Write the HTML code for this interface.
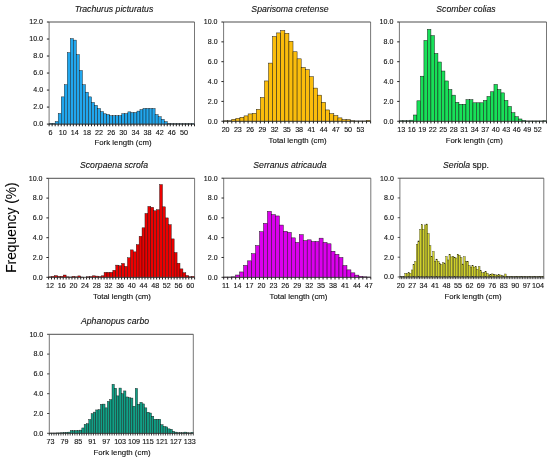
<!DOCTYPE html>
<html lang="en"><head><meta charset="utf-8"><title>Length frequency distributions</title>
<style>html,body{margin:0;padding:0;background:#fff}body{width:550px;height:460px;overflow:hidden}svg{display:block}</style>
</head><body>
<svg width="550" height="460" viewBox="0 0 550 460" font-family="'Liberation Sans', Arial, sans-serif">
<rect width="550" height="460" fill="#ffffff"/>
<text transform="translate(16.2,227.6) rotate(-90)" text-anchor="middle" font-size="13.8" fill="#000" stroke="#000" stroke-width="0.1">Frequency (%)</text>
<g fill="#21a7ee" stroke="#101010" stroke-width="0.42">
<rect x="49.10" y="123.42" width="3.03" height="0.68"/>
<rect x="52.13" y="123.42" width="3.03" height="0.68"/>
<rect x="55.16" y="121.55" width="3.03" height="2.55"/>
<rect x="58.19" y="113.46" width="3.03" height="10.64"/>
<rect x="61.22" y="96.87" width="3.03" height="27.23"/>
<rect x="64.25" y="84.71" width="3.03" height="39.39"/>
<rect x="67.28" y="52.63" width="3.03" height="71.47"/>
<rect x="70.30" y="38.59" width="3.03" height="85.51"/>
<rect x="73.33" y="40.12" width="3.03" height="83.98"/>
<rect x="76.36" y="54.59" width="3.03" height="69.51"/>
<rect x="79.39" y="70.50" width="3.03" height="53.60"/>
<rect x="82.42" y="84.71" width="3.03" height="39.39"/>
<rect x="85.45" y="92.19" width="3.03" height="31.91"/>
<rect x="88.48" y="96.87" width="3.03" height="27.23"/>
<rect x="91.51" y="102.40" width="3.03" height="21.70"/>
<rect x="94.54" y="105.38" width="3.03" height="18.72"/>
<rect x="97.57" y="108.53" width="3.03" height="15.57"/>
<rect x="100.60" y="111.59" width="3.03" height="12.51"/>
<rect x="103.62" y="113.80" width="3.03" height="10.30"/>
<rect x="106.65" y="114.57" width="3.03" height="9.53"/>
<rect x="109.68" y="115.68" width="3.03" height="8.42"/>
<rect x="112.71" y="115.68" width="3.03" height="8.42"/>
<rect x="115.74" y="115.68" width="3.03" height="8.42"/>
<rect x="118.77" y="115.68" width="3.03" height="8.42"/>
<rect x="121.80" y="113.72" width="3.03" height="10.38"/>
<rect x="124.83" y="113.72" width="3.03" height="10.38"/>
<rect x="127.86" y="111.85" width="3.03" height="12.25"/>
<rect x="130.89" y="112.61" width="3.03" height="11.49"/>
<rect x="133.92" y="112.61" width="3.03" height="11.49"/>
<rect x="136.95" y="111.08" width="3.03" height="13.02"/>
<rect x="139.97" y="109.64" width="3.03" height="14.46"/>
<rect x="143.00" y="108.53" width="3.03" height="15.57"/>
<rect x="146.03" y="108.53" width="3.03" height="15.57"/>
<rect x="149.06" y="108.53" width="3.03" height="15.57"/>
<rect x="152.09" y="108.53" width="3.03" height="15.57"/>
<rect x="155.12" y="114.57" width="3.03" height="9.53"/>
<rect x="158.15" y="116.78" width="3.03" height="7.32"/>
<rect x="161.18" y="119.34" width="3.03" height="4.76"/>
<rect x="164.21" y="121.63" width="3.03" height="2.47"/>
<rect x="167.24" y="123.25" width="3.03" height="0.85"/>
<rect x="170.27" y="123.76" width="3.03" height="0.34"/>
<rect x="173.30" y="123.76" width="3.03" height="0.34"/>
<rect x="176.33" y="123.76" width="3.03" height="0.34"/>
<rect x="179.35" y="123.76" width="3.03" height="0.34"/>
<rect x="182.38" y="123.76" width="3.03" height="0.34"/>
<rect x="185.41" y="123.76" width="3.03" height="0.34"/>
<rect x="188.44" y="123.76" width="3.03" height="0.34"/>
<rect x="191.47" y="123.59" width="3.03" height="0.51"/>
</g>
<path d="M49.10 22.00H194.50M49.10 124.10H194.50" fill="none" stroke="#444" stroke-width="0.95"/>
<path d="M49.10 22.00V124.10M194.50 22.00V124.10" fill="none" stroke="#505050" stroke-width="0.78"/>
<path d="M46.90 124.10H49.10M46.90 107.08H49.10M46.90 90.07H49.10M46.90 73.05H49.10M46.90 56.03H49.10M46.90 39.02H49.10M46.90 22.00H49.10M49.10 124.10v2.2M52.13 124.10v2.2M55.16 124.10v2.2M58.19 124.10v2.2M61.22 124.10v2.2M64.25 124.10v2.2M67.28 124.10v2.2M70.30 124.10v2.2M73.33 124.10v2.2M76.36 124.10v2.2M79.39 124.10v2.2M82.42 124.10v2.2M85.45 124.10v2.2M88.48 124.10v2.2M91.51 124.10v2.2M94.54 124.10v2.2M97.57 124.10v2.2M100.60 124.10v2.2M103.62 124.10v2.2M106.65 124.10v2.2M109.68 124.10v2.2M112.71 124.10v2.2M115.74 124.10v2.2M118.77 124.10v2.2M121.80 124.10v2.2M124.83 124.10v2.2M127.86 124.10v2.2M130.89 124.10v2.2M133.92 124.10v2.2M136.95 124.10v2.2M139.97 124.10v2.2M143.00 124.10v2.2M146.03 124.10v2.2M149.06 124.10v2.2M152.09 124.10v2.2M155.12 124.10v2.2M158.15 124.10v2.2M161.18 124.10v2.2M164.21 124.10v2.2M167.24 124.10v2.2M170.27 124.10v2.2M173.30 124.10v2.2M176.33 124.10v2.2M179.35 124.10v2.2M182.38 124.10v2.2M185.41 124.10v2.2M188.44 124.10v2.2M191.47 124.10v2.2M194.50 124.10v2.2" stroke="#161616" stroke-width="0.95" fill="none"/>
<g font-size="7.05" fill="#111" stroke="#111" stroke-width="0.12" text-anchor="end" letter-spacing="0.04">
<text x="43.10" y="126.40">0.0</text>
<text x="43.10" y="109.38">2.0</text>
<text x="43.10" y="92.37">4.0</text>
<text x="43.10" y="75.35">6.0</text>
<text x="43.10" y="58.33">8.0</text>
<text x="43.10" y="41.32">10.0</text>
<text x="43.10" y="24.30">12.0</text>
</g>
<g font-size="7.2" fill="#111" stroke="#111" stroke-width="0.12" text-anchor="middle">
<text x="50.61" y="135.10">6</text>
<text x="62.73" y="135.10">10</text>
<text x="74.85" y="135.10">14</text>
<text x="86.96" y="135.10">18</text>
<text x="99.08" y="135.10">22</text>
<text x="111.20" y="135.10">26</text>
<text x="123.31" y="135.10">30</text>
<text x="135.43" y="135.10">34</text>
<text x="147.55" y="135.10">38</text>
<text x="159.66" y="135.10">42</text>
<text x="171.78" y="135.10">46</text>
<text x="183.90" y="135.10">50</text>
</g>
<text x="114" y="11.5" font-size="8.7" font-style="italic" fill="#111" stroke="#111" stroke-width="0.1" text-anchor="middle">Trachurus picturatus</text>
<text x="123" y="145.3" font-size="7.85" fill="#111" stroke="#111" stroke-width="0.12" text-anchor="middle">Fork length (cm)</text>
<g fill="#fbbd0c" stroke="#101010" stroke-width="0.46">
<rect x="223.60" y="120.75" width="4.08" height="0.50"/>
<rect x="227.68" y="120.75" width="4.08" height="0.50"/>
<rect x="231.77" y="119.27" width="4.08" height="1.99"/>
<rect x="235.85" y="118.37" width="4.08" height="2.88"/>
<rect x="239.93" y="117.28" width="4.08" height="3.97"/>
<rect x="244.02" y="115.89" width="4.08" height="5.36"/>
<rect x="248.10" y="113.91" width="4.08" height="7.34"/>
<rect x="252.18" y="113.31" width="4.08" height="7.94"/>
<rect x="256.27" y="109.34" width="4.08" height="11.91"/>
<rect x="260.35" y="97.43" width="4.08" height="23.82"/>
<rect x="264.43" y="80.95" width="4.08" height="40.30"/>
<rect x="268.52" y="63.09" width="4.08" height="58.16"/>
<rect x="272.60" y="36.49" width="4.08" height="84.76"/>
<rect x="276.68" y="32.92" width="4.08" height="88.33"/>
<rect x="280.77" y="30.54" width="4.08" height="90.71"/>
<rect x="284.85" y="33.31" width="4.08" height="87.94"/>
<rect x="288.93" y="41.25" width="4.08" height="80.00"/>
<rect x="293.02" y="51.77" width="4.08" height="69.48"/>
<rect x="297.10" y="58.82" width="4.08" height="62.43"/>
<rect x="301.18" y="67.36" width="4.08" height="53.89"/>
<rect x="305.27" y="69.64" width="4.08" height="51.61"/>
<rect x="309.35" y="76.69" width="4.08" height="44.56"/>
<rect x="313.43" y="88.10" width="4.08" height="33.15"/>
<rect x="317.52" y="95.15" width="4.08" height="26.10"/>
<rect x="321.60" y="102.29" width="4.08" height="18.96"/>
<rect x="325.68" y="109.94" width="4.08" height="11.31"/>
<rect x="329.77" y="113.61" width="4.08" height="7.64"/>
<rect x="333.85" y="115.59" width="4.08" height="5.66"/>
<rect x="337.93" y="117.88" width="4.08" height="3.37"/>
<rect x="342.02" y="119.56" width="4.08" height="1.69"/>
<rect x="346.10" y="119.56" width="4.08" height="1.69"/>
<rect x="350.18" y="120.65" width="4.08" height="0.60"/>
<rect x="354.27" y="120.95" width="4.08" height="0.30"/>
<rect x="358.35" y="120.95" width="4.08" height="0.30"/>
<rect x="362.43" y="120.95" width="4.08" height="0.30"/>
<rect x="366.52" y="120.26" width="4.08" height="0.99"/>
</g>
<path d="M223.60 22.00H370.60M223.60 121.25H370.60" fill="none" stroke="#444" stroke-width="0.95"/>
<path d="M223.60 22.00V121.25M370.60 22.00V121.25" fill="none" stroke="#505050" stroke-width="0.78"/>
<path d="M221.40 121.25H223.60M221.40 101.40H223.60M221.40 81.55H223.60M221.40 61.70H223.60M221.40 41.85H223.60M221.40 22.00H223.60M223.60 121.25v2.2M227.68 121.25v2.2M231.77 121.25v2.2M235.85 121.25v2.2M239.93 121.25v2.2M244.02 121.25v2.2M248.10 121.25v2.2M252.18 121.25v2.2M256.27 121.25v2.2M260.35 121.25v2.2M264.43 121.25v2.2M268.52 121.25v2.2M272.60 121.25v2.2M276.68 121.25v2.2M280.77 121.25v2.2M284.85 121.25v2.2M288.93 121.25v2.2M293.02 121.25v2.2M297.10 121.25v2.2M301.18 121.25v2.2M305.27 121.25v2.2M309.35 121.25v2.2M313.43 121.25v2.2M317.52 121.25v2.2M321.60 121.25v2.2M325.68 121.25v2.2M329.77 121.25v2.2M333.85 121.25v2.2M337.93 121.25v2.2M342.02 121.25v2.2M346.10 121.25v2.2M350.18 121.25v2.2M354.27 121.25v2.2M358.35 121.25v2.2M362.43 121.25v2.2M366.52 121.25v2.2M370.60 121.25v2.2" stroke="#161616" stroke-width="0.95" fill="none"/>
<g font-size="7.05" fill="#111" stroke="#111" stroke-width="0.12" text-anchor="end" letter-spacing="0.04">
<text x="217.60" y="123.55">0.0</text>
<text x="217.60" y="103.70">2.0</text>
<text x="217.60" y="83.85">4.0</text>
<text x="217.60" y="64.00">6.0</text>
<text x="217.60" y="44.15">8.0</text>
<text x="217.60" y="24.30">10.0</text>
</g>
<g font-size="7.2" fill="#111" stroke="#111" stroke-width="0.12" text-anchor="middle">
<text x="225.64" y="131.70">20</text>
<text x="237.89" y="131.70">23</text>
<text x="250.14" y="131.70">26</text>
<text x="262.39" y="131.70">29</text>
<text x="274.64" y="131.70">32</text>
<text x="286.89" y="131.70">35</text>
<text x="299.14" y="131.70">38</text>
<text x="311.39" y="131.70">41</text>
<text x="323.64" y="131.70">44</text>
<text x="335.89" y="131.70">47</text>
<text x="348.14" y="131.70">50</text>
<text x="360.39" y="131.70">53</text>
</g>
<text x="290" y="11.5" font-size="8.7" font-style="italic" fill="#111" stroke="#111" stroke-width="0.1" text-anchor="middle">Sparisoma cretense</text>
<text x="297.6" y="142.8" font-size="7.85" fill="#111" stroke="#111" stroke-width="0.12" text-anchor="middle">Total length (cm)</text>
<g fill="#18e058" stroke="#101010" stroke-width="0.46">
<rect x="399.40" y="120.75" width="3.50" height="0.50"/>
<rect x="402.90" y="120.75" width="3.50" height="0.50"/>
<rect x="406.40" y="120.75" width="3.50" height="0.50"/>
<rect x="409.91" y="120.16" width="3.50" height="1.09"/>
<rect x="413.41" y="115.00" width="3.50" height="6.25"/>
<rect x="416.91" y="100.80" width="3.50" height="20.45"/>
<rect x="420.41" y="76.19" width="3.50" height="45.06"/>
<rect x="423.92" y="40.46" width="3.50" height="80.79"/>
<rect x="427.42" y="29.34" width="3.50" height="91.91"/>
<rect x="430.92" y="35.60" width="3.50" height="85.65"/>
<rect x="434.42" y="53.46" width="3.50" height="67.79"/>
<rect x="437.93" y="62.00" width="3.50" height="59.25"/>
<rect x="441.43" y="71.03" width="3.50" height="50.22"/>
<rect x="444.93" y="80.95" width="3.50" height="40.30"/>
<rect x="448.43" y="89.49" width="3.50" height="31.76"/>
<rect x="451.94" y="95.15" width="3.50" height="26.10"/>
<rect x="455.44" y="102.29" width="3.50" height="18.96"/>
<rect x="458.94" y="104.28" width="3.50" height="16.97"/>
<rect x="462.44" y="104.28" width="3.50" height="16.97"/>
<rect x="465.95" y="99.71" width="3.50" height="21.54"/>
<rect x="469.45" y="99.71" width="3.50" height="21.54"/>
<rect x="472.95" y="102.79" width="3.50" height="18.46"/>
<rect x="476.45" y="102.79" width="3.50" height="18.46"/>
<rect x="479.95" y="102.79" width="3.50" height="18.46"/>
<rect x="483.46" y="100.41" width="3.50" height="20.84"/>
<rect x="486.96" y="96.44" width="3.50" height="24.81"/>
<rect x="490.46" y="91.77" width="3.50" height="29.48"/>
<rect x="493.96" y="84.43" width="3.50" height="36.82"/>
<rect x="497.47" y="89.49" width="3.50" height="31.76"/>
<rect x="500.97" y="92.86" width="3.50" height="28.39"/>
<rect x="504.47" y="100.41" width="3.50" height="20.84"/>
<rect x="507.97" y="106.46" width="3.50" height="14.79"/>
<rect x="511.48" y="112.71" width="3.50" height="8.54"/>
<rect x="514.98" y="116.68" width="3.50" height="4.57"/>
<rect x="518.48" y="118.97" width="3.50" height="2.28"/>
<rect x="521.98" y="120.36" width="3.50" height="0.89"/>
<rect x="525.49" y="120.95" width="3.50" height="0.30"/>
<rect x="528.99" y="120.95" width="3.50" height="0.30"/>
<rect x="532.49" y="120.95" width="3.50" height="0.30"/>
<rect x="535.99" y="120.95" width="3.50" height="0.30"/>
<rect x="539.50" y="120.95" width="3.50" height="0.30"/>
<rect x="543.00" y="120.75" width="3.50" height="0.50"/>
</g>
<path d="M399.40 22.00H546.50M399.40 121.25H546.50" fill="none" stroke="#444" stroke-width="0.95"/>
<path d="M399.40 22.00V121.25M546.50 22.00V121.25" fill="none" stroke="#505050" stroke-width="0.78"/>
<path d="M397.20 121.25H399.40M397.20 101.40H399.40M397.20 81.55H399.40M397.20 61.70H399.40M397.20 41.85H399.40M397.20 22.00H399.40M399.40 121.25v2.2M402.90 121.25v2.2M406.40 121.25v2.2M409.91 121.25v2.2M413.41 121.25v2.2M416.91 121.25v2.2M420.41 121.25v2.2M423.92 121.25v2.2M427.42 121.25v2.2M430.92 121.25v2.2M434.42 121.25v2.2M437.93 121.25v2.2M441.43 121.25v2.2M444.93 121.25v2.2M448.43 121.25v2.2M451.94 121.25v2.2M455.44 121.25v2.2M458.94 121.25v2.2M462.44 121.25v2.2M465.95 121.25v2.2M469.45 121.25v2.2M472.95 121.25v2.2M476.45 121.25v2.2M479.95 121.25v2.2M483.46 121.25v2.2M486.96 121.25v2.2M490.46 121.25v2.2M493.96 121.25v2.2M497.47 121.25v2.2M500.97 121.25v2.2M504.47 121.25v2.2M507.97 121.25v2.2M511.48 121.25v2.2M514.98 121.25v2.2M518.48 121.25v2.2M521.98 121.25v2.2M525.49 121.25v2.2M528.99 121.25v2.2M532.49 121.25v2.2M535.99 121.25v2.2M539.50 121.25v2.2M543.00 121.25v2.2M546.50 121.25v2.2" stroke="#161616" stroke-width="0.95" fill="none"/>
<g font-size="7.05" fill="#111" stroke="#111" stroke-width="0.12" text-anchor="end" letter-spacing="0.04">
<text x="393.40" y="123.55">0.0</text>
<text x="393.40" y="103.70">2.0</text>
<text x="393.40" y="83.85">4.0</text>
<text x="393.40" y="64.00">6.0</text>
<text x="393.40" y="44.15">8.0</text>
<text x="393.40" y="24.30">10.0</text>
</g>
<g font-size="7.2" fill="#111" stroke="#111" stroke-width="0.12" text-anchor="middle">
<text x="401.15" y="131.70">13</text>
<text x="411.66" y="131.70">16</text>
<text x="422.17" y="131.70">19</text>
<text x="432.67" y="131.70">22</text>
<text x="443.18" y="131.70">25</text>
<text x="453.69" y="131.70">28</text>
<text x="464.19" y="131.70">31</text>
<text x="474.70" y="131.70">34</text>
<text x="485.21" y="131.70">37</text>
<text x="495.72" y="131.70">40</text>
<text x="506.22" y="131.70">43</text>
<text x="516.73" y="131.70">46</text>
<text x="527.24" y="131.70">49</text>
<text x="537.74" y="131.70">52</text>
</g>
<text x="466" y="11.5" font-size="8.7" font-style="italic" fill="#111" stroke="#111" stroke-width="0.1" text-anchor="middle">Scomber colias</text>
<text x="474.2" y="142.8" font-size="7.85" fill="#111" stroke="#111" stroke-width="0.12" text-anchor="middle">Fork length (cm)</text>
<g fill="#ec0000" stroke="#101010" stroke-width="0.4">
<rect x="48.60" y="276.81" width="2.92" height="0.50"/>
<rect x="51.52" y="276.31" width="2.92" height="0.99"/>
<rect x="54.44" y="275.62" width="2.92" height="1.68"/>
<rect x="57.36" y="276.31" width="2.92" height="0.99"/>
<rect x="60.28" y="276.31" width="2.92" height="0.99"/>
<rect x="63.20" y="275.02" width="2.92" height="2.28"/>
<rect x="66.12" y="276.81" width="2.92" height="0.50"/>
<rect x="69.04" y="277.00" width="2.92" height="0.30"/>
<rect x="71.96" y="276.31" width="2.92" height="0.99"/>
<rect x="74.88" y="276.81" width="2.92" height="0.50"/>
<rect x="77.80" y="275.91" width="2.92" height="1.39"/>
<rect x="80.72" y="277.00" width="2.92" height="0.30"/>
<rect x="86.56" y="276.71" width="2.92" height="0.59"/>
<rect x="89.48" y="276.51" width="2.92" height="0.79"/>
<rect x="92.40" y="275.81" width="2.92" height="1.49"/>
<rect x="95.32" y="276.11" width="2.92" height="1.19"/>
<rect x="98.24" y="276.51" width="2.92" height="0.79"/>
<rect x="101.16" y="275.81" width="2.92" height="1.49"/>
<rect x="104.08" y="272.35" width="2.92" height="4.95"/>
<rect x="107.00" y="272.35" width="2.92" height="4.95"/>
<rect x="109.92" y="272.35" width="2.92" height="4.95"/>
<rect x="112.84" y="270.27" width="2.92" height="7.03"/>
<rect x="115.76" y="265.12" width="2.92" height="12.18"/>
<rect x="118.68" y="265.72" width="2.92" height="11.58"/>
<rect x="121.60" y="263.44" width="2.92" height="13.86"/>
<rect x="124.52" y="266.41" width="2.92" height="10.89"/>
<rect x="127.44" y="257.80" width="2.92" height="19.50"/>
<rect x="130.36" y="249.88" width="2.92" height="27.42"/>
<rect x="133.28" y="251.86" width="2.92" height="25.44"/>
<rect x="136.20" y="244.63" width="2.92" height="32.67"/>
<rect x="139.12" y="236.31" width="2.92" height="40.99"/>
<rect x="142.04" y="227.80" width="2.92" height="49.50"/>
<rect x="144.96" y="213.44" width="2.92" height="63.86"/>
<rect x="147.88" y="206.42" width="2.92" height="70.88"/>
<rect x="150.80" y="207.31" width="2.92" height="69.99"/>
<rect x="153.72" y="210.77" width="2.92" height="66.53"/>
<rect x="156.64" y="209.68" width="2.92" height="67.62"/>
<rect x="159.56" y="184.54" width="2.92" height="92.76"/>
<rect x="162.48" y="206.81" width="2.92" height="70.49"/>
<rect x="165.40" y="217.90" width="2.92" height="59.40"/>
<rect x="168.32" y="224.63" width="2.92" height="52.67"/>
<rect x="171.24" y="238.89" width="2.92" height="38.41"/>
<rect x="174.16" y="252.55" width="2.92" height="24.75"/>
<rect x="177.08" y="263.24" width="2.92" height="14.06"/>
<rect x="180.00" y="268.88" width="2.92" height="8.42"/>
<rect x="182.92" y="272.75" width="2.92" height="4.55"/>
<rect x="185.84" y="275.52" width="2.92" height="1.78"/>
<rect x="188.76" y="276.71" width="2.92" height="0.59"/>
<rect x="191.68" y="276.31" width="2.92" height="0.99"/>
</g>
<path d="M48.60 178.30H194.60M48.60 277.30H194.60" fill="none" stroke="#444" stroke-width="0.95"/>
<path d="M48.60 178.30V277.30M194.60 178.30V277.30" fill="none" stroke="#505050" stroke-width="0.78"/>
<path d="M46.40 277.30H48.60M46.40 257.50H48.60M46.40 237.70H48.60M46.40 217.90H48.60M46.40 198.10H48.60M46.40 178.30H48.60M48.60 277.30v2.2M51.52 277.30v2.2M54.44 277.30v2.2M57.36 277.30v2.2M60.28 277.30v2.2M63.20 277.30v2.2M66.12 277.30v2.2M69.04 277.30v2.2M71.96 277.30v2.2M74.88 277.30v2.2M77.80 277.30v2.2M80.72 277.30v2.2M83.64 277.30v2.2M86.56 277.30v2.2M89.48 277.30v2.2M92.40 277.30v2.2M95.32 277.30v2.2M98.24 277.30v2.2M101.16 277.30v2.2M104.08 277.30v2.2M107.00 277.30v2.2M109.92 277.30v2.2M112.84 277.30v2.2M115.76 277.30v2.2M118.68 277.30v2.2M121.60 277.30v2.2M124.52 277.30v2.2M127.44 277.30v2.2M130.36 277.30v2.2M133.28 277.30v2.2M136.20 277.30v2.2M139.12 277.30v2.2M142.04 277.30v2.2M144.96 277.30v2.2M147.88 277.30v2.2M150.80 277.30v2.2M153.72 277.30v2.2M156.64 277.30v2.2M159.56 277.30v2.2M162.48 277.30v2.2M165.40 277.30v2.2M168.32 277.30v2.2M171.24 277.30v2.2M174.16 277.30v2.2M177.08 277.30v2.2M180.00 277.30v2.2M182.92 277.30v2.2M185.84 277.30v2.2M188.76 277.30v2.2M191.68 277.30v2.2M194.60 277.30v2.2" stroke="#161616" stroke-width="0.95" fill="none"/>
<g font-size="7.05" fill="#111" stroke="#111" stroke-width="0.12" text-anchor="end" letter-spacing="0.04">
<text x="42.60" y="279.60">0.0</text>
<text x="42.60" y="259.80">2.0</text>
<text x="42.60" y="240.00">4.0</text>
<text x="42.60" y="220.20">6.0</text>
<text x="42.60" y="200.40">8.0</text>
<text x="42.60" y="180.60">10.0</text>
</g>
<g font-size="7.2" fill="#111" stroke="#111" stroke-width="0.12" text-anchor="middle">
<text x="50.06" y="287.70">12</text>
<text x="61.74" y="287.70">16</text>
<text x="73.42" y="287.70">20</text>
<text x="85.10" y="287.70">24</text>
<text x="96.78" y="287.70">28</text>
<text x="108.46" y="287.70">32</text>
<text x="120.14" y="287.70">36</text>
<text x="131.82" y="287.70">40</text>
<text x="143.50" y="287.70">44</text>
<text x="155.18" y="287.70">48</text>
<text x="166.86" y="287.70">52</text>
<text x="178.54" y="287.70">56</text>
<text x="190.22" y="287.70">60</text>
</g>
<text x="114" y="168" font-size="8.7" font-style="italic" fill="#111" stroke="#111" stroke-width="0.1" text-anchor="middle">Scorpaena scrofa</text>
<text x="122" y="298.8" font-size="7.85" fill="#111" stroke="#111" stroke-width="0.12" text-anchor="middle">Total length (cm)</text>
<g fill="#dc00ee" stroke="#101010" stroke-width="0.46">
<rect x="223.70" y="277.00" width="3.98" height="0.30"/>
<rect x="227.68" y="277.00" width="3.98" height="0.30"/>
<rect x="231.65" y="276.80" width="3.98" height="0.50"/>
<rect x="235.63" y="275.02" width="3.98" height="2.28"/>
<rect x="239.60" y="271.95" width="3.98" height="5.35"/>
<rect x="243.58" y="265.41" width="3.98" height="11.89"/>
<rect x="247.55" y="260.85" width="3.98" height="16.45"/>
<rect x="251.53" y="253.71" width="3.98" height="23.59"/>
<rect x="255.51" y="245.59" width="3.98" height="31.71"/>
<rect x="259.48" y="231.71" width="3.98" height="45.59"/>
<rect x="263.46" y="223.39" width="3.98" height="53.91"/>
<rect x="267.43" y="211.40" width="3.98" height="65.90"/>
<rect x="271.41" y="214.57" width="3.98" height="62.73"/>
<rect x="275.38" y="215.96" width="3.98" height="61.34"/>
<rect x="279.36" y="225.07" width="3.98" height="52.23"/>
<rect x="283.34" y="231.32" width="3.98" height="45.98"/>
<rect x="287.31" y="232.41" width="3.98" height="44.89"/>
<rect x="291.29" y="237.86" width="3.98" height="39.44"/>
<rect x="295.26" y="242.42" width="3.98" height="34.88"/>
<rect x="299.24" y="234.69" width="3.98" height="42.61"/>
<rect x="303.21" y="240.63" width="3.98" height="36.67"/>
<rect x="307.19" y="239.84" width="3.98" height="37.46"/>
<rect x="311.16" y="241.52" width="3.98" height="35.78"/>
<rect x="315.14" y="241.52" width="3.98" height="35.78"/>
<rect x="319.12" y="238.16" width="3.98" height="39.14"/>
<rect x="323.09" y="242.42" width="3.98" height="34.88"/>
<rect x="327.07" y="243.80" width="3.98" height="33.50"/>
<rect x="331.04" y="251.24" width="3.98" height="26.06"/>
<rect x="335.02" y="254.31" width="3.98" height="22.99"/>
<rect x="338.99" y="257.48" width="3.98" height="19.82"/>
<rect x="342.97" y="265.61" width="3.98" height="11.69"/>
<rect x="346.95" y="269.87" width="3.98" height="7.43"/>
<rect x="350.92" y="272.84" width="3.98" height="4.46"/>
<rect x="354.90" y="275.12" width="3.98" height="2.18"/>
<rect x="358.87" y="276.31" width="3.98" height="0.99"/>
<rect x="362.85" y="276.80" width="3.98" height="0.50"/>
<rect x="366.82" y="277.00" width="3.98" height="0.30"/>
</g>
<path d="M223.70 178.20H370.80M223.70 277.30H370.80" fill="none" stroke="#444" stroke-width="0.95"/>
<path d="M223.70 178.20V277.30M370.80 178.20V277.30" fill="none" stroke="#505050" stroke-width="0.78"/>
<path d="M221.50 277.30H223.70M221.50 257.48H223.70M221.50 237.66H223.70M221.50 217.84H223.70M221.50 198.02H223.70M221.50 178.20H223.70M223.70 277.30v2.2M227.68 277.30v2.2M231.65 277.30v2.2M235.63 277.30v2.2M239.60 277.30v2.2M243.58 277.30v2.2M247.55 277.30v2.2M251.53 277.30v2.2M255.51 277.30v2.2M259.48 277.30v2.2M263.46 277.30v2.2M267.43 277.30v2.2M271.41 277.30v2.2M275.38 277.30v2.2M279.36 277.30v2.2M283.34 277.30v2.2M287.31 277.30v2.2M291.29 277.30v2.2M295.26 277.30v2.2M299.24 277.30v2.2M303.21 277.30v2.2M307.19 277.30v2.2M311.16 277.30v2.2M315.14 277.30v2.2M319.12 277.30v2.2M323.09 277.30v2.2M327.07 277.30v2.2M331.04 277.30v2.2M335.02 277.30v2.2M338.99 277.30v2.2M342.97 277.30v2.2M346.95 277.30v2.2M350.92 277.30v2.2M354.90 277.30v2.2M358.87 277.30v2.2M362.85 277.30v2.2M366.82 277.30v2.2M370.80 277.30v2.2" stroke="#161616" stroke-width="0.95" fill="none"/>
<g font-size="7.05" fill="#111" stroke="#111" stroke-width="0.12" text-anchor="end" letter-spacing="0.04">
<text x="217.70" y="279.60">0.0</text>
<text x="217.70" y="259.78">2.0</text>
<text x="217.70" y="239.96">4.0</text>
<text x="217.70" y="220.14">6.0</text>
<text x="217.70" y="200.32">8.0</text>
<text x="217.70" y="180.50">10.0</text>
</g>
<g font-size="7.2" fill="#111" stroke="#111" stroke-width="0.12" text-anchor="middle">
<text x="225.69" y="287.70">11</text>
<text x="237.61" y="287.70">14</text>
<text x="249.54" y="287.70">17</text>
<text x="261.47" y="287.70">20</text>
<text x="273.40" y="287.70">23</text>
<text x="285.32" y="287.70">26</text>
<text x="297.25" y="287.70">29</text>
<text x="309.18" y="287.70">32</text>
<text x="321.10" y="287.70">35</text>
<text x="333.03" y="287.70">38</text>
<text x="344.96" y="287.70">41</text>
<text x="356.89" y="287.70">44</text>
<text x="368.81" y="287.70">47</text>
</g>
<text x="290" y="168" font-size="8.7" font-style="italic" fill="#111" stroke="#111" stroke-width="0.1" text-anchor="middle">Serranus atricauda</text>
<text x="298.5" y="298.8" font-size="7.85" fill="#111" stroke="#111" stroke-width="0.12" text-anchor="middle">Total length (cm)</text>
<g fill="#d2d32c" stroke="#26260c" stroke-width="0.33">
<rect x="399.90" y="276.65" width="1.64" height="0.30"/>
<rect x="401.54" y="276.65" width="1.64" height="0.30"/>
<rect x="403.17" y="276.46" width="1.64" height="0.49"/>
<rect x="404.81" y="273.30" width="1.64" height="3.65"/>
<rect x="406.44" y="273.69" width="1.64" height="3.26"/>
<rect x="408.08" y="272.60" width="1.64" height="4.34"/>
<rect x="409.71" y="273.30" width="1.64" height="3.65"/>
<rect x="411.35" y="269.94" width="1.64" height="7.01"/>
<rect x="412.98" y="264.51" width="1.64" height="12.44"/>
<rect x="414.62" y="261.45" width="1.64" height="15.50"/>
<rect x="416.25" y="244.26" width="1.64" height="32.69"/>
<rect x="417.89" y="240.91" width="1.64" height="36.04"/>
<rect x="419.52" y="229.35" width="1.64" height="47.60"/>
<rect x="421.16" y="224.71" width="1.64" height="52.24"/>
<rect x="422.79" y="229.35" width="1.64" height="47.60"/>
<rect x="424.43" y="224.91" width="1.64" height="52.04"/>
<rect x="426.06" y="224.02" width="1.64" height="52.93"/>
<rect x="427.70" y="233.50" width="1.64" height="43.45"/>
<rect x="429.33" y="245.65" width="1.64" height="31.30"/>
<rect x="430.97" y="256.41" width="1.64" height="20.54"/>
<rect x="432.60" y="251.37" width="1.64" height="25.58"/>
<rect x="434.24" y="261.15" width="1.64" height="15.80"/>
<rect x="435.88" y="259.08" width="1.64" height="17.87"/>
<rect x="437.51" y="261.15" width="1.64" height="15.80"/>
<rect x="439.15" y="263.82" width="1.64" height="13.13"/>
<rect x="440.78" y="264.51" width="1.64" height="12.44"/>
<rect x="442.42" y="262.53" width="1.64" height="14.42"/>
<rect x="444.05" y="263.82" width="1.64" height="13.13"/>
<rect x="445.69" y="256.41" width="1.64" height="20.54"/>
<rect x="447.32" y="259.96" width="1.64" height="16.98"/>
<rect x="448.96" y="254.24" width="1.64" height="22.71"/>
<rect x="450.59" y="256.90" width="1.64" height="20.05"/>
<rect x="452.23" y="256.21" width="1.64" height="20.74"/>
<rect x="453.86" y="257.50" width="1.64" height="19.45"/>
<rect x="455.50" y="257.99" width="1.64" height="18.96"/>
<rect x="457.13" y="254.24" width="1.64" height="22.71"/>
<rect x="458.77" y="255.32" width="1.64" height="21.63"/>
<rect x="460.40" y="257.50" width="1.64" height="19.45"/>
<rect x="462.04" y="264.01" width="1.64" height="12.94"/>
<rect x="463.67" y="256.61" width="1.64" height="20.34"/>
<rect x="465.31" y="261.35" width="1.64" height="15.60"/>
<rect x="466.94" y="261.35" width="1.64" height="15.60"/>
<rect x="468.58" y="265.40" width="1.64" height="11.55"/>
<rect x="470.21" y="267.07" width="1.64" height="9.88"/>
<rect x="471.85" y="265.69" width="1.64" height="11.26"/>
<rect x="473.49" y="267.07" width="1.64" height="9.88"/>
<rect x="475.12" y="266.48" width="1.64" height="10.47"/>
<rect x="476.76" y="269.25" width="1.64" height="7.70"/>
<rect x="478.39" y="266.48" width="1.64" height="10.47"/>
<rect x="480.03" y="270.63" width="1.64" height="6.32"/>
<rect x="481.66" y="272.80" width="1.64" height="4.15"/>
<rect x="483.30" y="272.60" width="1.64" height="4.34"/>
<rect x="484.93" y="271.52" width="1.64" height="5.43"/>
<rect x="486.57" y="273.30" width="1.64" height="3.65"/>
<rect x="488.20" y="274.97" width="1.64" height="1.98"/>
<rect x="489.84" y="274.78" width="1.64" height="2.17"/>
<rect x="491.47" y="273.89" width="1.64" height="3.06"/>
<rect x="493.11" y="274.78" width="1.64" height="2.17"/>
<rect x="494.74" y="274.78" width="1.64" height="2.17"/>
<rect x="496.38" y="275.17" width="1.64" height="1.78"/>
<rect x="498.01" y="274.78" width="1.64" height="2.17"/>
<rect x="499.65" y="274.97" width="1.64" height="1.98"/>
<rect x="501.28" y="275.76" width="1.64" height="1.19"/>
<rect x="502.92" y="275.96" width="1.64" height="0.99"/>
<rect x="504.55" y="273.99" width="1.64" height="2.96"/>
<rect x="506.19" y="276.26" width="1.64" height="0.69"/>
<rect x="507.82" y="276.36" width="1.64" height="0.59"/>
<rect x="509.46" y="276.26" width="1.64" height="0.69"/>
<rect x="511.10" y="276.56" width="1.64" height="0.40"/>
<rect x="512.73" y="276.56" width="1.64" height="0.40"/>
<rect x="514.37" y="276.36" width="1.64" height="0.59"/>
<rect x="516.00" y="276.65" width="1.64" height="0.30"/>
<rect x="517.64" y="276.26" width="1.64" height="0.69"/>
<rect x="519.27" y="276.65" width="1.64" height="0.30"/>
<rect x="520.91" y="276.65" width="1.64" height="0.30"/>
<rect x="522.54" y="276.46" width="1.64" height="0.49"/>
<rect x="524.18" y="276.65" width="1.64" height="0.30"/>
<rect x="525.81" y="276.65" width="1.64" height="0.30"/>
<rect x="527.45" y="276.46" width="1.64" height="0.49"/>
<rect x="529.08" y="276.65" width="1.64" height="0.30"/>
<rect x="530.72" y="276.65" width="1.64" height="0.30"/>
<rect x="532.35" y="276.65" width="1.64" height="0.30"/>
<rect x="533.99" y="276.46" width="1.64" height="0.49"/>
<rect x="535.62" y="276.65" width="1.64" height="0.30"/>
<rect x="537.26" y="276.65" width="1.64" height="0.30"/>
<rect x="538.89" y="276.65" width="1.64" height="0.30"/>
<rect x="540.53" y="276.46" width="1.64" height="0.49"/>
<rect x="542.16" y="276.26" width="1.64" height="0.69"/>
</g>
<path d="M399.90 178.20H543.80M399.90 276.95H543.80" fill="none" stroke="#444" stroke-width="0.95"/>
<path d="M399.90 178.20V276.95M543.80 178.20V276.95" fill="none" stroke="#505050" stroke-width="0.78"/>
<path d="M397.70 276.95H399.90M397.70 257.20H399.90M397.70 237.45H399.90M397.70 217.70H399.90M397.70 197.95H399.90M397.70 178.20H399.90M399.90 276.95v2.2M401.54 276.95v2.2M403.17 276.95v2.2M404.81 276.95v2.2M406.44 276.95v2.2M408.08 276.95v2.2M409.71 276.95v2.2M411.35 276.95v2.2M412.98 276.95v2.2M414.62 276.95v2.2M416.25 276.95v2.2M417.89 276.95v2.2M419.52 276.95v2.2M421.16 276.95v2.2M422.79 276.95v2.2M424.43 276.95v2.2M426.06 276.95v2.2M427.70 276.95v2.2M429.33 276.95v2.2M430.97 276.95v2.2M432.60 276.95v2.2M434.24 276.95v2.2M435.88 276.95v2.2M437.51 276.95v2.2M439.15 276.95v2.2M440.78 276.95v2.2M442.42 276.95v2.2M444.05 276.95v2.2M445.69 276.95v2.2M447.32 276.95v2.2M448.96 276.95v2.2M450.59 276.95v2.2M452.23 276.95v2.2M453.86 276.95v2.2M455.50 276.95v2.2M457.13 276.95v2.2M458.77 276.95v2.2M460.40 276.95v2.2M462.04 276.95v2.2M463.67 276.95v2.2M465.31 276.95v2.2M466.94 276.95v2.2M468.58 276.95v2.2M470.21 276.95v2.2M471.85 276.95v2.2M473.49 276.95v2.2M475.12 276.95v2.2M476.76 276.95v2.2M478.39 276.95v2.2M480.03 276.95v2.2M481.66 276.95v2.2M483.30 276.95v2.2M484.93 276.95v2.2M486.57 276.95v2.2M488.20 276.95v2.2M489.84 276.95v2.2M491.47 276.95v2.2M493.11 276.95v2.2M494.74 276.95v2.2M496.38 276.95v2.2M498.01 276.95v2.2M499.65 276.95v2.2M501.28 276.95v2.2M502.92 276.95v2.2M504.55 276.95v2.2M506.19 276.95v2.2M507.82 276.95v2.2M509.46 276.95v2.2M511.10 276.95v2.2M512.73 276.95v2.2M514.37 276.95v2.2M516.00 276.95v2.2M517.64 276.95v2.2M519.27 276.95v2.2M520.91 276.95v2.2M522.54 276.95v2.2M524.18 276.95v2.2M525.81 276.95v2.2M527.45 276.95v2.2M529.08 276.95v2.2M530.72 276.95v2.2M532.35 276.95v2.2M533.99 276.95v2.2M535.62 276.95v2.2M537.26 276.95v2.2M538.89 276.95v2.2M540.53 276.95v2.2M542.16 276.95v2.2M543.80 276.95v2.2" stroke="#161616" stroke-width="0.7" fill="none"/>
<g font-size="7.05" fill="#111" stroke="#111" stroke-width="0.12" text-anchor="end" letter-spacing="0.04">
<text x="393.90" y="279.25">0.0</text>
<text x="393.90" y="259.50">2.0</text>
<text x="393.90" y="239.75">4.0</text>
<text x="393.90" y="220.00">6.0</text>
<text x="393.90" y="200.25">8.0</text>
<text x="393.90" y="180.50">10.0</text>
</g>
<g font-size="7.2" fill="#111" stroke="#111" stroke-width="0.12" text-anchor="middle">
<text x="400.72" y="287.70">20</text>
<text x="412.16" y="287.70">27</text>
<text x="423.61" y="287.70">34</text>
<text x="435.06" y="287.70">41</text>
<text x="446.50" y="287.70">48</text>
<text x="457.95" y="287.70">55</text>
<text x="469.40" y="287.70">62</text>
<text x="480.84" y="287.70">69</text>
<text x="492.29" y="287.70">76</text>
<text x="503.74" y="287.70">83</text>
<text x="515.18" y="287.70">90</text>
<text x="526.63" y="287.70">97</text>
<text x="538.08" y="287.70">104</text>
</g>
<text x="466" y="168" font-size="8.7" fill="#111" stroke="#111" stroke-width="0.1" text-anchor="middle"><tspan font-style="italic">Seriola</tspan> spp.</text>
<text x="473" y="298.8" font-size="7.85" fill="#111" stroke="#111" stroke-width="0.12" text-anchor="middle">Fork length (cm)</text>
<g fill="#11a086" stroke="#101010" stroke-width="0.4">
<rect x="49.30" y="433.00" width="2.32" height="0.30"/>
<rect x="51.62" y="433.00" width="2.32" height="0.30"/>
<rect x="53.95" y="433.00" width="2.32" height="0.30"/>
<rect x="56.27" y="432.90" width="2.32" height="0.40"/>
<rect x="58.59" y="432.90" width="2.32" height="0.40"/>
<rect x="60.91" y="432.71" width="2.32" height="0.59"/>
<rect x="63.24" y="432.51" width="2.32" height="0.79"/>
<rect x="65.56" y="432.31" width="2.32" height="0.99"/>
<rect x="67.88" y="432.11" width="2.32" height="1.19"/>
<rect x="70.20" y="430.53" width="2.32" height="2.77"/>
<rect x="72.53" y="430.73" width="2.32" height="2.57"/>
<rect x="74.85" y="430.53" width="2.32" height="2.77"/>
<rect x="77.17" y="430.53" width="2.32" height="2.77"/>
<rect x="79.49" y="430.13" width="2.32" height="3.17"/>
<rect x="81.82" y="427.95" width="2.32" height="5.35"/>
<rect x="84.14" y="424.39" width="2.32" height="8.91"/>
<rect x="86.46" y="423.70" width="2.32" height="9.60"/>
<rect x="88.78" y="419.44" width="2.32" height="13.86"/>
<rect x="91.11" y="413.70" width="2.32" height="19.60"/>
<rect x="93.43" y="412.11" width="2.32" height="21.19"/>
<rect x="95.75" y="409.94" width="2.32" height="23.36"/>
<rect x="98.07" y="409.64" width="2.32" height="23.66"/>
<rect x="100.40" y="404.29" width="2.32" height="29.01"/>
<rect x="102.72" y="404.10" width="2.32" height="29.21"/>
<rect x="105.04" y="407.86" width="2.32" height="25.44"/>
<rect x="107.36" y="401.42" width="2.32" height="31.88"/>
<rect x="109.69" y="399.64" width="2.32" height="33.66"/>
<rect x="112.01" y="384.30" width="2.32" height="49.01"/>
<rect x="114.33" y="388.25" width="2.32" height="45.05"/>
<rect x="116.65" y="395.88" width="2.32" height="37.42"/>
<rect x="118.98" y="388.06" width="2.32" height="45.24"/>
<rect x="121.30" y="393.70" width="2.32" height="39.60"/>
<rect x="123.62" y="390.93" width="2.32" height="42.37"/>
<rect x="125.95" y="396.97" width="2.32" height="36.33"/>
<rect x="128.27" y="397.76" width="2.32" height="35.54"/>
<rect x="130.59" y="398.06" width="2.32" height="35.24"/>
<rect x="132.91" y="406.27" width="2.32" height="27.03"/>
<rect x="135.24" y="388.45" width="2.32" height="44.85"/>
<rect x="137.56" y="404.29" width="2.32" height="29.01"/>
<rect x="139.88" y="402.31" width="2.32" height="30.99"/>
<rect x="142.20" y="403.90" width="2.32" height="29.40"/>
<rect x="144.53" y="407.86" width="2.32" height="25.44"/>
<rect x="146.85" y="412.21" width="2.32" height="21.09"/>
<rect x="149.17" y="413.00" width="2.32" height="20.29"/>
<rect x="151.49" y="416.27" width="2.32" height="17.03"/>
<rect x="153.82" y="419.24" width="2.32" height="14.06"/>
<rect x="156.14" y="419.24" width="2.32" height="14.06"/>
<rect x="158.46" y="419.24" width="2.32" height="14.06"/>
<rect x="160.78" y="424.69" width="2.32" height="8.61"/>
<rect x="163.11" y="426.47" width="2.32" height="6.83"/>
<rect x="165.43" y="426.87" width="2.32" height="6.44"/>
<rect x="167.75" y="428.85" width="2.32" height="4.46"/>
<rect x="170.07" y="429.24" width="2.32" height="4.06"/>
<rect x="172.40" y="431.32" width="2.32" height="1.98"/>
<rect x="174.72" y="432.11" width="2.32" height="1.19"/>
<rect x="177.04" y="432.71" width="2.32" height="0.59"/>
<rect x="179.36" y="432.71" width="2.32" height="0.59"/>
<rect x="181.69" y="432.71" width="2.32" height="0.59"/>
<rect x="184.01" y="432.11" width="2.32" height="1.19"/>
<rect x="186.33" y="432.71" width="2.32" height="0.59"/>
<rect x="188.65" y="432.90" width="2.32" height="0.40"/>
<rect x="190.98" y="432.31" width="2.32" height="0.99"/>
</g>
<path d="M49.30 334.30H193.30M49.30 433.30H193.30" fill="none" stroke="#444" stroke-width="0.95"/>
<path d="M49.30 334.30V433.30M193.30 334.30V433.30" fill="none" stroke="#505050" stroke-width="0.78"/>
<path d="M47.10 433.30H49.30M47.10 413.50H49.30M47.10 393.70H49.30M47.10 373.90H49.30M47.10 354.10H49.30M47.10 334.30H49.30M49.30 433.30v2.2M51.62 433.30v2.2M53.95 433.30v2.2M56.27 433.30v2.2M58.59 433.30v2.2M60.91 433.30v2.2M63.24 433.30v2.2M65.56 433.30v2.2M67.88 433.30v2.2M70.20 433.30v2.2M72.53 433.30v2.2M74.85 433.30v2.2M77.17 433.30v2.2M79.49 433.30v2.2M81.82 433.30v2.2M84.14 433.30v2.2M86.46 433.30v2.2M88.78 433.30v2.2M91.11 433.30v2.2M93.43 433.30v2.2M95.75 433.30v2.2M98.07 433.30v2.2M100.40 433.30v2.2M102.72 433.30v2.2M105.04 433.30v2.2M107.36 433.30v2.2M109.69 433.30v2.2M112.01 433.30v2.2M114.33 433.30v2.2M116.65 433.30v2.2M118.98 433.30v2.2M121.30 433.30v2.2M123.62 433.30v2.2M125.95 433.30v2.2M128.27 433.30v2.2M130.59 433.30v2.2M132.91 433.30v2.2M135.24 433.30v2.2M137.56 433.30v2.2M139.88 433.30v2.2M142.20 433.30v2.2M144.53 433.30v2.2M146.85 433.30v2.2M149.17 433.30v2.2M151.49 433.30v2.2M153.82 433.30v2.2M156.14 433.30v2.2M158.46 433.30v2.2M160.78 433.30v2.2M163.11 433.30v2.2M165.43 433.30v2.2M167.75 433.30v2.2M170.07 433.30v2.2M172.40 433.30v2.2M174.72 433.30v2.2M177.04 433.30v2.2M179.36 433.30v2.2M181.69 433.30v2.2M184.01 433.30v2.2M186.33 433.30v2.2M188.65 433.30v2.2M190.98 433.30v2.2M193.30 433.30v2.2" stroke="#161616" stroke-width="0.8" fill="none"/>
<g font-size="7.05" fill="#111" stroke="#111" stroke-width="0.12" text-anchor="end" letter-spacing="0.04">
<text x="43.30" y="435.60">0.0</text>
<text x="43.30" y="415.80">2.0</text>
<text x="43.30" y="396.00">4.0</text>
<text x="43.30" y="376.20">6.0</text>
<text x="43.30" y="356.40">8.0</text>
<text x="43.30" y="336.60">10.0</text>
</g>
<g font-size="7.2" fill="#111" stroke="#111" stroke-width="0.12" text-anchor="middle">
<text x="50.46" y="443.70">73</text>
<text x="64.40" y="443.70">79</text>
<text x="78.33" y="443.70">85</text>
<text x="92.27" y="443.70">91</text>
<text x="106.20" y="443.70">97</text>
<text x="120.14" y="443.70">103</text>
<text x="134.07" y="443.70">109</text>
<text x="148.01" y="443.70">115</text>
<text x="161.95" y="443.70">121</text>
<text x="175.88" y="443.70">127</text>
<text x="189.82" y="443.70">133</text>
</g>
<text x="115" y="324" font-size="8.7" font-style="italic" fill="#111" stroke="#111" stroke-width="0.1" text-anchor="middle">Aphanopus carbo</text>
<text x="122" y="454.8" font-size="7.85" fill="#111" stroke="#111" stroke-width="0.12" text-anchor="middle">Fork length (cm)</text>
</svg>
</body></html>
